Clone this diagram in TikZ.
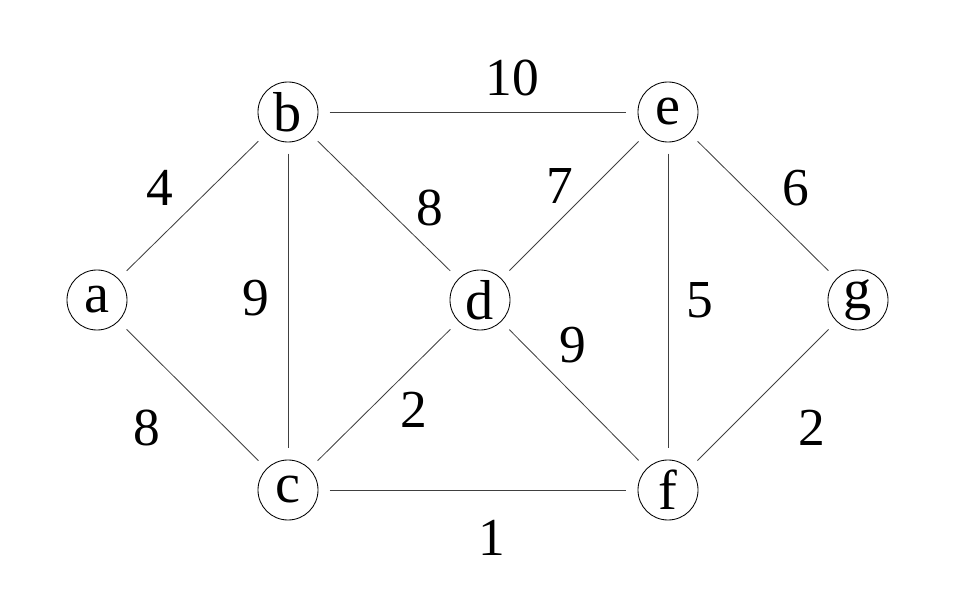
\documentclass[tikz,border=0pt]{standalone}
\usepackage{fontspec}
\setmainfont{Liberation Serif}
\begin{document}
\begin{tikzpicture}[x=0.025cm,y=-0.025cm,
  vtx/.style={draw,circle,minimum size=1.5cm,inner sep=0pt,line width=0.6pt,font=\fontsize{40}{44}\selectfont},
  edge/.style={draw=black!75,line width=0.6pt,shorten >=8pt,shorten <=8pt},
  wt/.style={font=\fontsize{38}{42}\selectfont}]
\useasboundingbox (0,0) rectangle (956,610);
\node[vtx] (a) at (97,300) {a};
\node[vtx] (b) at (288,112) {b};
\node[vtx] (c) at (288,490) {c};
\node[vtx] (d) at (480,300) {d};
\node[vtx] (e) at (668,112) {e};
\node[vtx] (f) at (668,490) {f};
\node[vtx] (g) at (858,300) {g};
\draw[edge] (a)--(b); \draw[edge] (a)--(c); \draw[edge] (b)--(c);
\draw[edge] (b)--(d); \draw[edge] (b)--(e); \draw[edge] (c)--(d);
\draw[edge] (c)--(f); \draw[edge] (d)--(e); \draw[edge] (d)--(f);
\draw[edge] (e)--(f); \draw[edge] (e)--(g); \draw[edge] (f)--(g);
\node[wt] (w1) at (512,78) {10};
\node[wt] (w2) at (160,188) {4};
\node[wt] (w3) at (147,428) {8};
\node[wt] (w4) at (256,298) {9};
\node[wt] (w5) at (430,208) {8};
\node[wt] (w6) at (560,186) {7};
\node[wt] (w7) at (414,410) {2};
\node[wt] (w8) at (573,345) {9};
\node[wt] (w9) at (700,300) {5};
\node[wt] (w10) at (796,188) {6};
\node[wt] (w11) at (812,428) {2};
\node[wt] (w12) at (492,538) {1};
\end{tikzpicture}
\end{document}
